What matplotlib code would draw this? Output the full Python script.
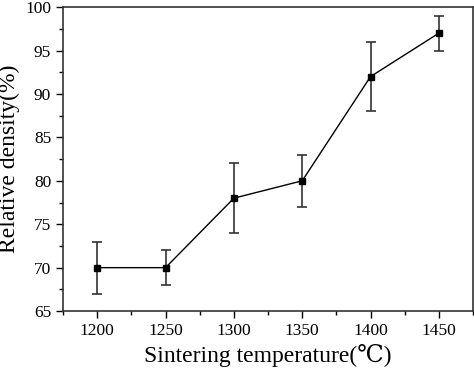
import matplotlib
matplotlib.use("Agg")
import matplotlib.pyplot as plt
from matplotlib.ticker import MultipleLocator

temps = [1200, 1250, 1300, 1350, 1400, 1450]
density = [70, 70, 78, 80, 92, 97]
err = [3, 2, 4, 3, 4, 2]

plt.rcParams['font.family'] = ['Liberation Serif', 'DejaVu Serif', 'Noto Sans CJK SC']

fig = plt.figure(figsize=(4.74, 3.73), dpi=100)
ax = fig.add_axes([0.133, 0.166, 0.865, 0.815])

ax.errorbar(temps, density, yerr=err, fmt='s-', color='black', ms=5,
            lw=1, elinewidth=1.2, ecolor='#333333', capsize=3.5, capthick=1.2)

ax.set_xlim(1175, 1475)
ax.set_ylim(65, 100)
ax.xaxis.set_major_locator(MultipleLocator(50))
ax.xaxis.set_minor_locator(MultipleLocator(25))
ax.yaxis.set_major_locator(MultipleLocator(5))
ax.yaxis.set_minor_locator(MultipleLocator(2.5))
ax.tick_params(which='major', direction='out', length=5, width=1, labelsize=12.5)
ax.tick_params(which='minor', direction='out', length=3, width=1)
for s in ax.spines.values():
    s.set_linewidth(1.2)
    s.set_color('#333333')

ax.set_xlabel('Sintering temperature(℃)', fontsize=17)
ax.set_ylabel('Relative density(%)', fontsize=17)

fig.savefig('out.png', dpi=100)
